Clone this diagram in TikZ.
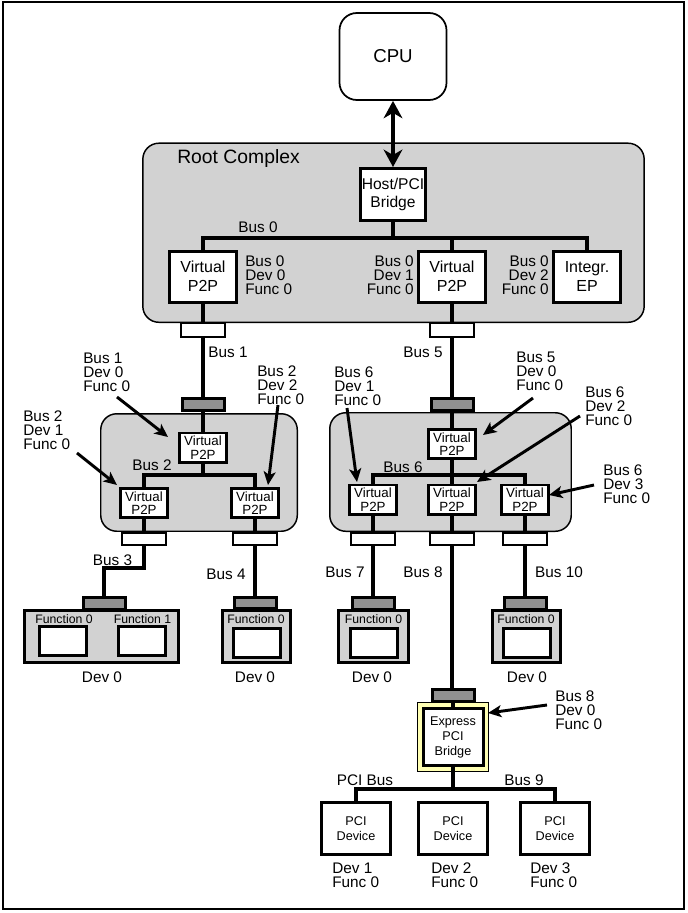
\documentclass[tikz,border=0pt]{standalone}
\usepackage{fontspec}
\setmainfont{Liberation Sans}
\usetikzlibrary{arrows.meta}
\definecolor{boxgray}{RGB}{210,210,210}
\definecolor{portgray}{RGB}{145,145,145}
\definecolor{bridgeyellow}{RGB}{255,255,178}
\begin{document}
\begin{tikzpicture}[x=0.75pt,y=-0.75pt,
  lbl/.style={inner sep=0pt, font=\fontsize{11.5}{10.5}\selectfont, align=left},
  lblr/.style={lbl, align=right},
  container/.style={draw, line width=1.1pt, fill=boxgray, rounded corners=12pt, inner sep=0pt},
  cpubox/.style={draw, line width=1.3pt, fill=white, rounded corners=13pt, inner sep=0pt,
    minimum width=80.25pt, minimum height=65.25pt, font=\fontsize{14}{16}\selectfont},
  bigbox/.style={draw, line width=2.25pt, fill=white, align=center, inner sep=0pt,
    minimum width=50.25pt, minimum height=38.25pt, font=\fontsize{12}{14}\selectfont},
  smallbox/.style={draw, line width=1.9pt, fill=white, align=center, inner sep=0pt,
    minimum width=35.6pt, minimum height=22.1pt, font=\fontsize{10}{10}\selectfont},
  portbox/.style={draw, line width=1.5pt, fill=white, inner sep=0pt, minimum width=32.5pt},
  gport/.style={draw, line width=2.25pt, fill=portgray, inner sep=0pt, minimum width=31.5pt, minimum height=8.5pt},
  devbox/.style={draw, line width=2.25pt, fill=boxgray, inner sep=0pt, minimum height=39pt},
  funcbox/.style={draw, line width=2.25pt, fill=white, inner sep=0pt, minimum width=35.25pt, minimum height=21.75pt},
  funclbl/.style={inner sep=0pt, font=\fontsize{9.2}{10}\selectfont},
  pcibox/.style={draw, line width=2.25pt, fill=white, align=center, inner sep=0pt,
    minimum width=51.75pt, minimum height=39pt, font=\fontsize{9.5}{11.25}\selectfont},
  bus/.style={line width=3pt},
  callout/.style={line width=2.2pt, -{Stealth[length=10pt,width=9pt,inset=2.5pt]}}
]
\useasboundingbox (0,0) rectangle (688,913);
\draw[line width=0.9pt] (3,2) rectangle (684,909);

% containers
\node[container, minimum width=376pt, minimum height=134.3pt] (rc) at (393.5,232.75) {};
\node[container, minimum width=147.4pt, minimum height=88.1pt] (sw1) at (199,472.5) {};
\node[container, minimum width=181.1pt, minimum height=88.9pt] (sw2) at (450.5,472) {};
\node[lbl, anchor=west, font=\fontsize{14.5}{16}\selectfont] (rclbl) at (177,159) {Root Complex};

% CPU and root complex content
\node[cpubox] (cpu) at (393,56.5) {CPU};
\node[bigbox, minimum width=48.75pt, minimum height=39pt, font=\fontsize{11.7}{14}\selectfont] (hb) at (393,194.5) {Host/PCI\\Bridge};
\node[bigbox] (vp0) at (203,276.5) {Virtual\\P2P};
\node[bigbox] (vp1) at (452,276.5) {Virtual\\P2P};
\node[bigbox] (ep) at (587,276.5) {Integr.\\EP};

\node[portbox, minimum height=10.5pt] (port0) at (203,330) {};
\node[portbox, minimum height=10.5pt] (port1) at (452,330) {};

% switch 1
\node[gport] (gp1) at (203,404.5) {};
\node[smallbox] (s1t) at (203,447.5) {Virtual\\P2P};
\node[smallbox] (s1l) at (144,503) {Virtual\\P2P};
\node[smallbox] (s1r) at (255,503) {Virtual\\P2P};
\node[portbox, minimum height=9pt] (p3) at (144,539) {};
\node[portbox, minimum height=9pt] (p4) at (255,539) {};

% switch 2
\node[gport] (gp5) at (452,404.5) {};
\node[smallbox] (s2t) at (452,444) {Virtual\\P2P};
\node[smallbox] (s2a) at (373,499.5) {Virtual\\P2P};
\node[smallbox] (s2b) at (452,499.5) {Virtual\\P2P};
\node[smallbox] (s2c) at (525,499.5) {Virtual\\P2P};
\node[portbox, minimum height=9pt] (p7) at (373,538.5) {};
\node[portbox, minimum height=9pt] (p8) at (452,538.5) {};
\node[portbox, minimum height=9pt] (p10) at (525,538.5) {};

% endpoint devices
\node[devbox, minimum width=115.5pt] (dA) at (101.5,636.5) {};
\node[gport] (gp3) at (104,603.5) {};
\node[funclbl] (fA0l) at (64,619) {Function 0};
\node[funclbl] (fA1l) at (142.5,619) {Function 1};
\node[funcbox] (fA0) at (63,641) {};
\node[funcbox] (fA1) at (142,641) {};
\node[lbl] (dAl) at (102,677) {Dev 0};

\node[devbox, minimum width=51pt] (dB) at (256,636.5) {};
\node[gport] (gp4) at (255,603) {};
\node[funclbl] (fBl) at (256,619) {Function 0};
\node[funcbox] (fB) at (256.5,642.5) {};
\node[lbl] (dBl) at (255,677) {Dev 0};

\node[devbox, minimum width=52.5pt] (dC) at (373.5,636.5) {};
\node[gport] (gp7) at (373,603.5) {};
\node[funclbl] (fCl) at (373.5,619) {Function 0};
\node[funcbox] (fC) at (373.5,642.5) {};
\node[lbl] (dCl) at (372,677) {Dev 0};

\node[devbox, minimum width=51pt] (dD) at (526,636.5) {};
\node[gport] (gp10) at (525,603.5) {};
\node[funclbl] (fDl) at (526,619) {Function 0};
\node[funcbox] (fD) at (527,642.5) {};
\node[lbl] (dDl) at (527,677) {Dev 0};

% bridge
\node[draw, line width=1.1pt, fill=bridgeyellow, inner sep=0pt, minimum width=53.6pt, minimum height=51.4pt] (bro) at (453,737) {};
\node[draw, line width=2.25pt, fill=white, inner sep=0pt, align=center, minimum width=45pt, minimum height=42.75pt,
  font=\fontsize{9.5}{11.25}\selectfont] (bri) at (453,737) {Express\\PCI\\Bridge};
\node[gport] (gp8) at (453,695.5) {};

% PCI devices
\node[pcibox] (pd1) at (356,828.5) {PCI\\Device};
\node[pcibox] (pd2) at (453,828.5) {PCI\\Device};
\node[pcibox] (pd3) at (555,828.5) {PCI\\Device};

% connectors
\coordinate (b0) at (0,238);
\coordinate (b2) at (0,475);
\coordinate (b6) at (0,475);
\coordinate (b3) at (104,568);
\coordinate (pb) at (0,789);
\draw[line width=3pt, {Stealth[length=13pt,width=14pt,inset=4pt]}-{Stealth[length=13pt,width=14pt,inset=4pt]}] (cpu.south) -- (hb.north);
\draw[bus] (vp0.north) |- (ep.north |- b0) -- (ep.north);
\draw[bus] (hb.south) -- (hb.south |- b0);
\draw[bus] (vp1.north) -- (vp1.north |- b0);
\draw[bus] (vp0.south) -- (port0.north);
\draw[bus] (vp1.south) -- (port1.north);
\draw[bus] (port0.south) -- (gp1.north);
\draw[bus] (port1.south) -- (gp5.north);
\draw[bus] (gp1.south) -- (s1t.north);
\draw[bus] (gp5.south) -- (s2t.north);
\draw[bus] (s1l.north) |- (s1r.north |- b2) -- (s1r.north);
\draw[bus] (s1t.south) -- (s1t.south |- b2);
\draw[bus] (s2a.north) |- (s2c.north |- b6) -- (s2c.north);
\draw[bus] (s2t.south) -- (s2b.north);
\draw[bus] (s1l.south) -- (p3.north);
\draw[bus] (s1r.south) -- (p4.north);
\draw[bus] (s2a.south) -- (p7.north);
\draw[bus] (s2b.south) -- (p8.north);
\draw[bus] (s2c.south) -- (p10.north);
\draw[bus] (p3.south) |- (b3) -- (gp3.north);
\draw[bus] (p4.south) -- (gp4.north);
\draw[bus] (p7.south) -- (gp7.north);
\draw[bus] (p10.south) -- (gp10.north);
\draw[bus] (p8.south) -- (p8.south |- gp8.north);
\draw[bus] (gp8.south) -- (bri.north);
\draw[bus] (pd1.north) |- (pd3.north |- pb) -- (pd3.north);
\draw[bus] (bri.south) -- (bri.south |- pb);

% bus labels
\node[lbl] (lb0) at (258,227) {Bus 0};
\node[lbl] (lb1) at (228,352) {Bus 1};
\node[lbl] (lb5) at (423,352) {Bus 5};
\node[lbl] (lb2) at (152,465) {Bus 2};
\node[lbl] (lb6) at (403,467) {Bus 6};
\node[lbl] (lb3) at (112.5,560) {Bus 3};
\node[lbl] (lb4) at (226,574) {Bus 4};
\node[lbl] (lb7) at (345,572) {Bus 7};
\node[lbl] (lb8) at (423,572) {Bus 8};
\node[lbl] (lb10) at (559,572) {Bus 10};
\node[lbl] (lpb) at (365,780) {PCI Bus};
\node[lbl] (lb9) at (524,780) {Bus 9};

% BDF labels
\node[lbl, anchor=west] (id0) at (245,275) {Bus 0\\Dev 0\\Func 0};
\node[lblr, anchor=east] (id1) at (414,275) {Bus 0\\Dev 1\\Func 0};
\node[lblr, anchor=east] (id2) at (549,275) {Bus 0\\Dev 2\\Func 0};
\node[lbl, anchor=west] (c1) at (83,372) {Bus 1\\Dev 0\\Func 0};
\node[lbl, anchor=west] (c2) at (23,430) {Bus 2\\Dev 1\\Func 0};
\node[lbl, anchor=west] (c3) at (257,385) {Bus 2\\Dev 2\\Func 0};
\node[lbl, anchor=west] (c4) at (334,386) {Bus 6\\Dev 1\\Func 0};
\node[lbl, anchor=west] (c5) at (516,371) {Bus 5\\Dev 0\\Func 0};
\node[lbl, anchor=west] (c6) at (585,406) {Bus 6\\Dev 2\\Func 0};
\node[lbl, anchor=west] (c7) at (603,484) {Bus 6\\Dev 3\\Func 0};
\node[lbl, anchor=west] (c8) at (555,710) {Bus 8\\Dev 0\\Func 0};
\node[lbl, anchor=west] (pl1) at (332,875.5) {Dev 1\\Func 0};
\node[lbl, anchor=west] (pl2) at (431,875.5) {Dev 2\\Func 0};
\node[lbl, anchor=west] (pl3) at (530,875.5) {Dev 3\\Func 0};

% callout arrows
\coordinate (a1s) at (117,397); \coordinate (a1e) at (168,437);
\coordinate (a2s) at (77,453);  \coordinate (a2e) at (117,485);
\coordinate (a3s) at (278,405); \coordinate (a3e) at (268,485);
\coordinate (a4s) at (347,408); \coordinate (a4e) at (357,482);
\coordinate (a5s) at (533,398); \coordinate (a5e) at (483,435);
\coordinate (a6s) at (580,416); \coordinate (a6e) at (477,482);
\coordinate (a7s) at (594,485); \coordinate (a7e) at (549,495);
\coordinate (a8s) at (547,705); \coordinate (a8e) at (488,713);
\draw[callout] (a1s) -- (a1e);
\draw[callout] (a2s) -- (a2e);
\draw[callout] (a3s) -- (a3e);
\draw[callout] (a4s) -- (a4e);
\draw[callout] (a5s) -- (a5e);
\draw[callout] (a6s) -- (a6e);
\draw[callout] (a7s) -- (a7e);
\draw[callout] (a8s) -- (a8e);
\end{tikzpicture}
\end{document}
